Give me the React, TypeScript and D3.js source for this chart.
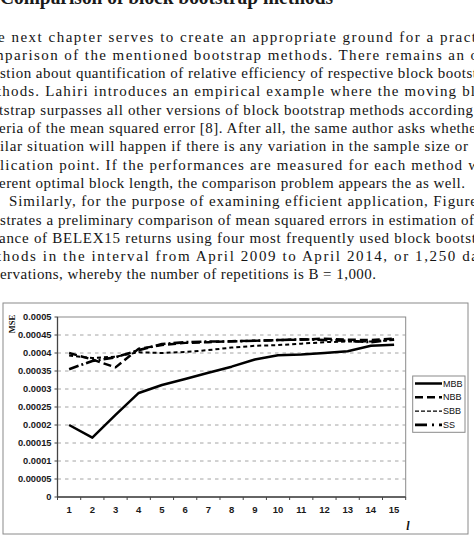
import React from 'react';
import * as d3 from 'd3';

const categories = ['1','2','3','4','5','6','7','8','9','10','11','12','13','14','15'];
const yTicks = [0, 0.00005, 0.0001, 0.00015, 0.0002, 0.00025, 0.0003, 0.00035, 0.0004, 0.00045, 0.0005];
const yTickLabels = ['0', '0.00005', '0.0001', '0.00015', '0.0002', '0.00025', '0.0003', '0.00035', '0.0004', '0.00045', '0.0005'];

const MBB = [0.0002, 0.000165, 0.000228, 0.000289, 0.000311, 0.000328, 0.000345, 0.000362, 0.000382, 0.000394, 0.000396, 0.0004, 0.000405, 0.00042, 0.000423];
const NBB = [0.0004, 0.000382, 0.00036, 0.000412, 0.000422, 0.000428, 0.00043, 0.000433, 0.000434, 0.000436, 0.000437, 0.00044, 0.000437, 0.000436, 0.00044];
const SBB = [0.000393, 0.000386, 0.00039, 0.000402, 0.0004, 0.000403, 0.000408, 0.000415, 0.00042, 0.000422, 0.000426, 0.00043, 0.000432, 0.000432, 0.000436];
const SS = [0.000355, 0.000378, 0.000388, 0.000408, 0.000425, 0.00043, 0.000432, 0.000432, 0.000434, 0.000436, 0.000438, 0.000436, 0.000434, 0.00043, 0.000438];

const seriesNames = ['MBB', 'NBB', 'SBB', 'SS'];
const seriesValues = [MBB, NBB, SBB, SS];

const heading = 'Comparison of block bootstrap methods';
const bodyLines = [
  'e next chapter serves to create an appropriate ground for a pract',
  'mparison of the mentioned bootstrap methods. There remains an o',
  'stion about quantification of relative efficiency of respective block bootst',
  'thods. Lahiri introduces an empirical example where the moving bl',
  'tstrap surpasses all other versions of block bootstrap methods according',
  'eria of the mean squared error [8]. After all, the same author asks whethe',
  'ilar situation will happen if there is any variation in the sample size or',
  'lication point. If the performances are measured for each method w',
  'erent optimal block length, the comparison problem appears the as well.',
  'Similarly, for the purpose of examining efficient application, Figure',
  'strates a preliminary comparison of mean squared errors in estimation of',
  'ance of BELEX15 returns using four most frequently used block bootst',
  'thods in the interval from April 2009 to April 2014, or 1,250 da',
  'ervations, whereby the number of repetitions is B = 1,000.',
];
const lineStarts = [-2, -8, 0, -3, -1, -1, 0, 0, -1, 9, 0, -1, -3, 0];
const lineEnds = [476, 478, 477, 475, 473, 476, 468, 479, 465, 477, 474, 476, 478, 376];

const styles = [
  { width: 2.5, dash: '' },
  { width: 2.4, dash: '8,4' },
  { width: 2, dash: '4,3' },
  { width: 2.6, dash: '10,3,2,3' },
];
const legendDash = ['', '8,4', '4,2', '12,5,2,5'];

export default function App() {
  const W = 474, H = 539;
  const plotL = 57.5, plotR = 405.7, plotT = 317, plotB = 497;
  const x = d3.scaleBand<string>().domain(categories).range([plotL, plotR]);
  const cx = (c: string) => (x(c) as number) + x.bandwidth() / 2;
  const y = d3.scaleLinear().domain([0, 0.0005]).range([plotB, plotT]);
  const line = d3.line<number>().x((_, i) => cx(categories[i])).y(d => y(d));
  const boundaries = categories.map(c => x(c) as number).concat([plotR]);
  const sans = "'Liberation Sans', Arial, sans-serif";
  const serif = "'Liberation Serif', 'Times New Roman', serif";

  return (
    <div style={{ position: 'absolute', left: 0, top: 0 }}>
      <svg width={W} height={H} viewBox={`0 0 ${W} ${H}`} style={{ display: 'block', background: '#fff', overflow: 'hidden' }}>
        <rect x={0} y={0} width={W} height={H} fill="#fff" />
        <text x={0} y={4} fontFamily={serif} fontWeight="bold" fontSize={21} fill="#1a1a1a" textLength={333} lengthAdjust="spacingAndGlyphs">{heading}</text>
        {bodyLines.map((t, i) => (
          <text key={i} x={lineStarts[i]} y={41.5 + 18.3 * i} fontFamily={serif} fontSize={15} fill="#141414"
            textLength={lineEnds[i] - lineStarts[i]} lengthAdjust="spacing">{t}</text>
        ))}

        {/* chart outer border */}
        <rect x={3} y={303} width={465} height={231} fill="#fff" stroke="#8a8a8a" strokeWidth={1} />

        {/* plot frame */}
        <rect x={plotL} y={plotT} width={plotR - plotL} height={plotB - plotT} fill="#fff" stroke="#8a8a8a" strokeWidth={1} />

        {/* gridlines */}
        {yTicks.slice(1, -1).map((v, i) => (
          <line key={i} x1={plotL} x2={plotR} y1={y(v)} y2={y(v)} stroke="#9a9a9a" strokeWidth={0.9} strokeDasharray="3.5,4" />
        ))}

        {/* axes */}
        <line x1={plotL} x2={plotL} y1={plotT} y2={plotB} stroke="#444" strokeWidth={1.3} />
        <line x1={plotL} x2={plotR} y1={plotB} y2={plotB} stroke="#444" strokeWidth={1.3} />
        {yTicks.map((v, i) => (
          <g key={i}>
            <line x1={plotL - 3} x2={plotL} y1={y(v)} y2={y(v)} stroke="#444" strokeWidth={1} />
            <text x={51.5} y={y(v)} dy="0.35em" textAnchor="end" fontFamily={sans} fontWeight="bold" fontSize={9.3} fill="#1a1a1a">{yTickLabels[i]}</text>
          </g>
        ))}
        {boundaries.map((b, i) => (
          <line key={i} x1={b} x2={b} y1={plotB} y2={plotB + 3} stroke="#444" strokeWidth={1} />
        ))}
        {categories.map(c => (
          <text key={c} x={cx(c)} y={513} textAnchor="middle" fontFamily={sans} fontWeight="bold" fontSize={9.5} fill="#1a1a1a">{c}</text>
        ))}

        {/* axis labels */}
        <text transform="translate(14.5,324) rotate(-90)" textAnchor="middle" fontFamily={serif} fontWeight="bold" fontSize={8.5} fill="#111">MSE</text>
        <text x={408} y={530} textAnchor="middle" fontFamily={serif} fontStyle="italic" fontWeight="bold" fontSize={12} fill="#111">l</text>

        {/* series */}
        {seriesValues.map((vals, i) => (
          <path key={i} d={line(vals) || ''} fill="none" stroke="#000" strokeWidth={styles[i].width}
            strokeDasharray={styles[i].dash || undefined} strokeLinejoin="round" />
        ))}

        {/* legend */}
        <rect x={412.7} y={376} width={52.3} height={56.3} fill="#fff" stroke="#8a8a8a" strokeWidth={1} />
        {seriesNames.map((n, i) => {
          const ly = 383.5 + 13.8 * i;
          return (
            <g key={n}>
              <line x1={415} x2={442} y1={ly} y2={ly} stroke="#000" strokeWidth={i === 2 ? 1.3 : styles[i].width}
                strokeDasharray={legendDash[i] || undefined} />
              <text x={443} y={ly} dy="0.35em" fontFamily={sans} fontSize={9} fill="#111">{n}</text>
            </g>
          );
        })}
      </svg>
    </div>
  );
}
